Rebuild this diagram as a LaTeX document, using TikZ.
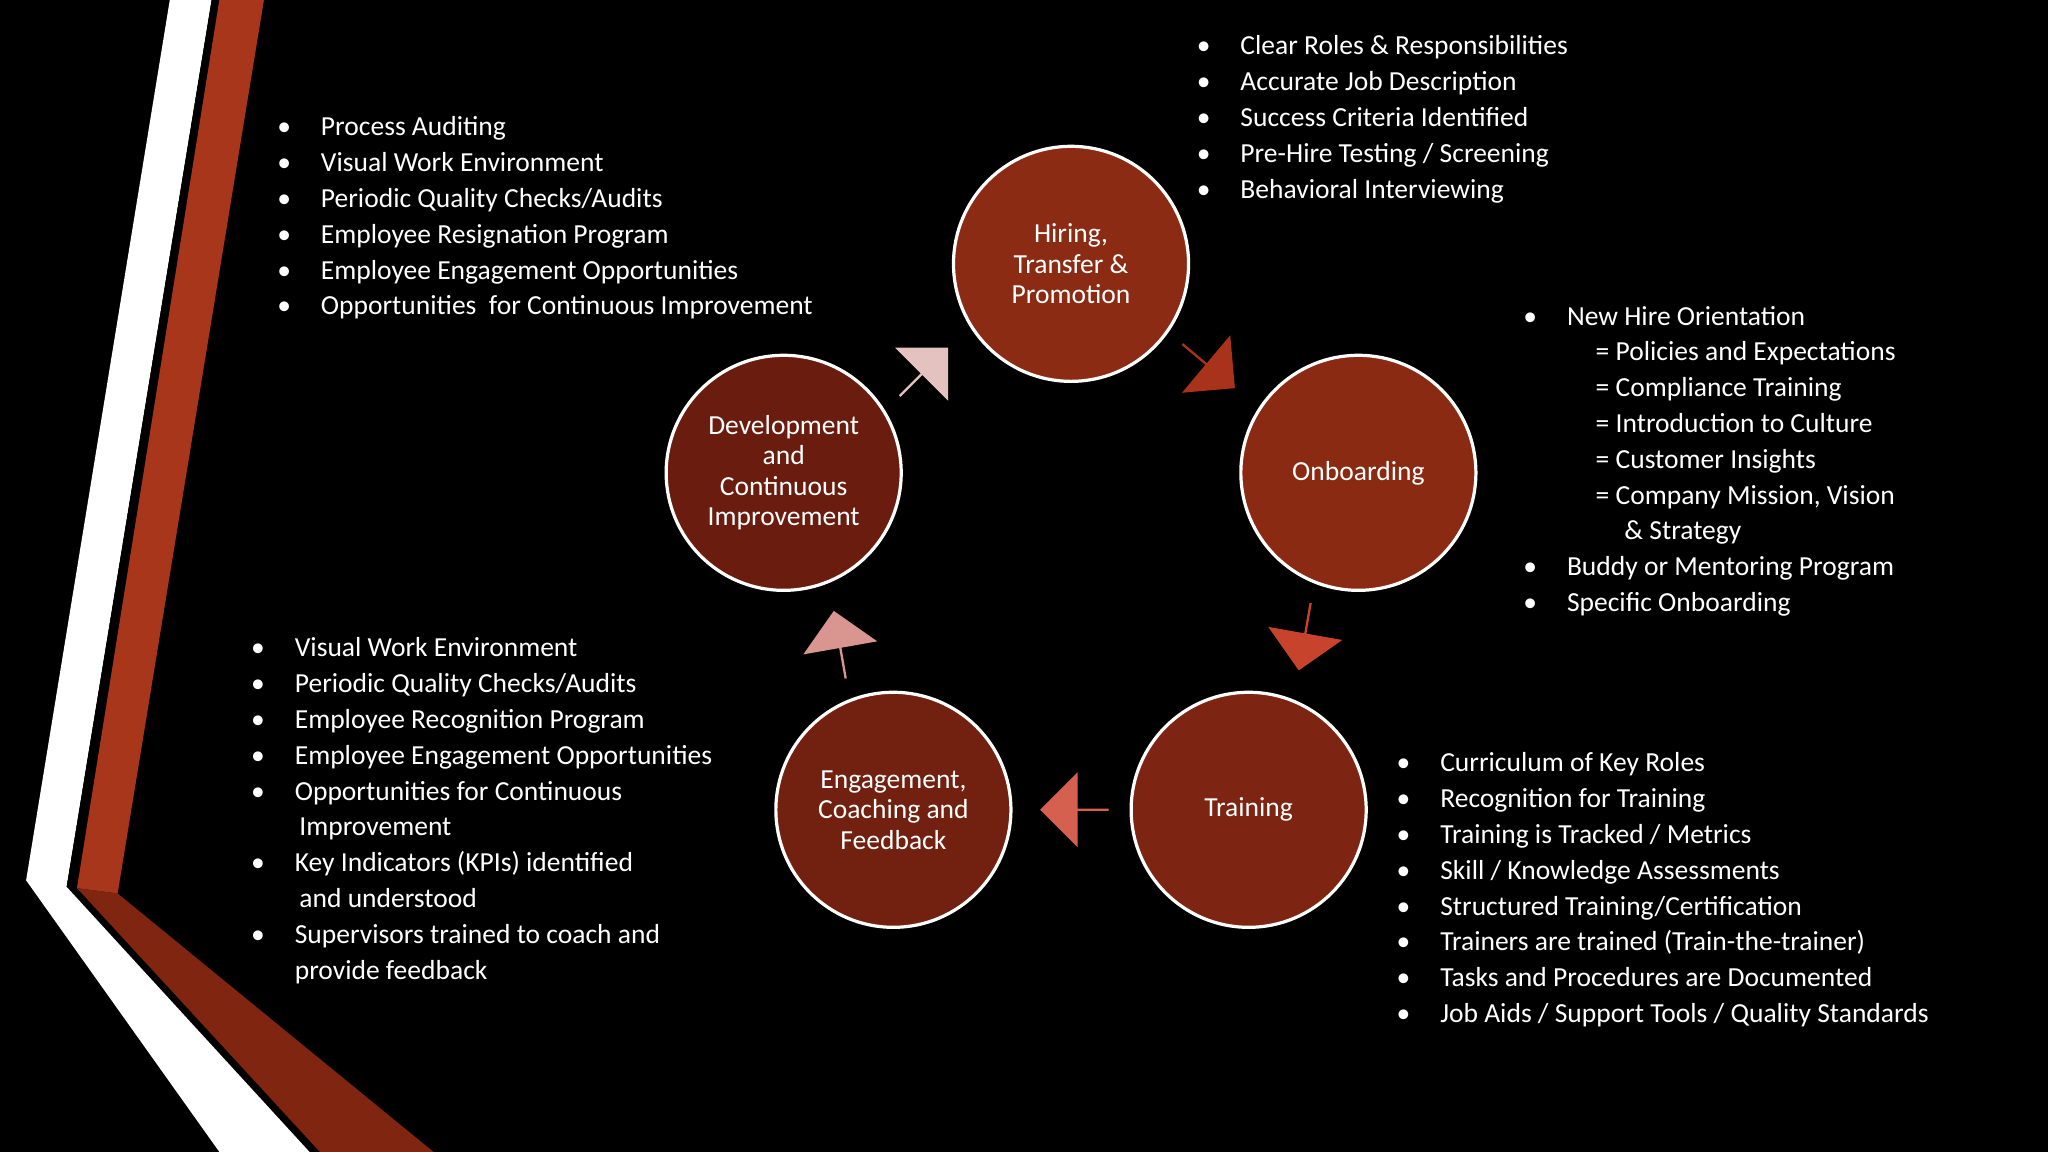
\documentclass[tikz,border=0pt]{standalone}
\usepackage{fontspec}
\setmainfont{Carlito}
\usetikzlibrary{shapes.arrows}
\newcommand{\bl}{\makebox[19pt][l]{\textbullet}}
\newcommand{\ind}[1]{\hspace*{#1}}
\tikzset{
  stage/.style={circle,draw=white,line width=1.4pt,minimum size=3.6cm,inner sep=0pt,text=white,align=center,font=\fontsize{12}{13.3}\selectfont},
  lst/.style={anchor=north west,inner sep=0pt,text=white,align=left,font=\fontsize{12}{15.6}\selectfont},
  blk/.style={single arrow,minimum height=1.05cm,minimum width=1.15cm,single arrow head extend=0.22cm,inner sep=0pt,draw=none}
}
\begin{document}
\begin{tikzpicture}[x=0.02cm,y=-0.02cm]
\fill[black] (0,0) rectangle (1568,882);
\useasboundingbox (0,0) rectangle (1568,882);
% left decoration
\fill[white] (130,0) -- (162,0) -- (51,679) -- (237,882) -- (168,882) -- (20,674) -- cycle;
\fill[black!100] (162,0) -- (168,0) -- (59,680) -- (51,679) -- cycle;
\fill[red!55!black!90!orange] (168,0) -- (202,0) -- (90,684) -- (59,680) -- cycle;
\fill[fill={rgb,255:red,168;green,54;blue,26}] (168,0) -- (202,0) -- (90,684) -- (59,680) -- cycle;
\fill[fill={rgb,255:red,128;green,38;blue,16}] (59,680) -- (90,684) -- (332,882) -- (245,882) -- cycle;
% circles
\definecolor{cH}{RGB}{139,43,20}
\definecolor{cO}{RGB}{138,42,18}
\definecolor{cT}{RGB}{126,36,18}
\definecolor{cE}{RGB}{114,32,15}
\definecolor{cD}{RGB}{106,29,14}
\node[stage,fill=cH] (hire) at (820,202) {Hiring,\\Transfer \&\\Promotion};
\node[stage,fill=cO] (onb) at (1040,362) {Onboarding};
\node[stage,fill=cT] (train) at (956,620) {Training};
\node[stage,fill=cE] (eng) at (684,620) {Engagement,\\Coaching and\\Feedback};
\node[stage,fill=cD] (dev) at (600,362) {Development\\and\\Continuous\\Improvement};
% arrows
\node[blk,fill={rgb,255:red,168;green,50;blue,26},rotate=-40] (a1) at (925,280) {};
\node[blk,fill={rgb,255:red,200;green,67;blue,43},rotate=-100] (a2) at (999,487) {};
\node[blk,fill={rgb,255:red,213;green,96;blue,79},rotate=180] (a3) at (823,620) {};
\node[blk,fill={rgb,255:red,217;green,149;blue,144},rotate=100] (a4) at (643,494) {};
\node[blk,fill={rgb,255:red,227;green,194;blue,192},rotate=45] (a5) at (707,285) {};
% lists
\node[lst] (la) at (916,27) {\bl Clear Roles \& Responsibilities\\\bl Accurate Job Description\\\bl Success Criteria Identified\\\bl Pre-Hire Testing / Screening\\\bl Behavioral Interviewing};
\node[lst] (lb) at (212,89) {\bl Process Auditing\\\bl Visual Work Environment\\\bl Periodic Quality Checks/Audits\\\bl Employee Resignation Program\\\bl Employee Engagement Opportunities\\\bl Opportunities\ \ for Continuous Improvement};
\node[lst] (lc) at (1166,234) {\bl New Hire Orientation\\\ind{31.5pt}= Policies and Expectations\\\ind{31.5pt}= Compliance Training\\\ind{31.5pt}= Introduction to Culture\\\ind{31.5pt}= Customer Insights\\\ind{31.5pt}= Company Mission, Vision\\\ind{44pt}\& Strategy\\\bl Buddy or Mentoring Program\\\bl Specific Onboarding};
\node[lst] (ld) at (192,488) {\bl Visual Work Environment\\\bl Periodic Quality Checks/Audits\\\bl Employee Recognition Program\\\bl Employee Engagement Opportunities\\\bl Opportunities for Continuous\\\ind{21pt}Improvement\\\bl Key Indicators (KPIs) identified\\\ind{21pt}and understood\\\bl Supervisors trained to coach and\\\ind{19pt}provide feedback};
\node[lst] (le) at (1069,576) {\bl Curriculum of Key Roles\\\bl Recognition for Training\\\bl Training is Tracked / Metrics\\\bl Skill / Knowledge Assessments\\\bl Structured Training/Certification\\\bl Trainers are trained (Train-the-trainer)\\\bl Tasks and Procedures are Documented\\\bl Job Aids / Support Tools / Quality Standards};
\end{tikzpicture}
\end{document}
